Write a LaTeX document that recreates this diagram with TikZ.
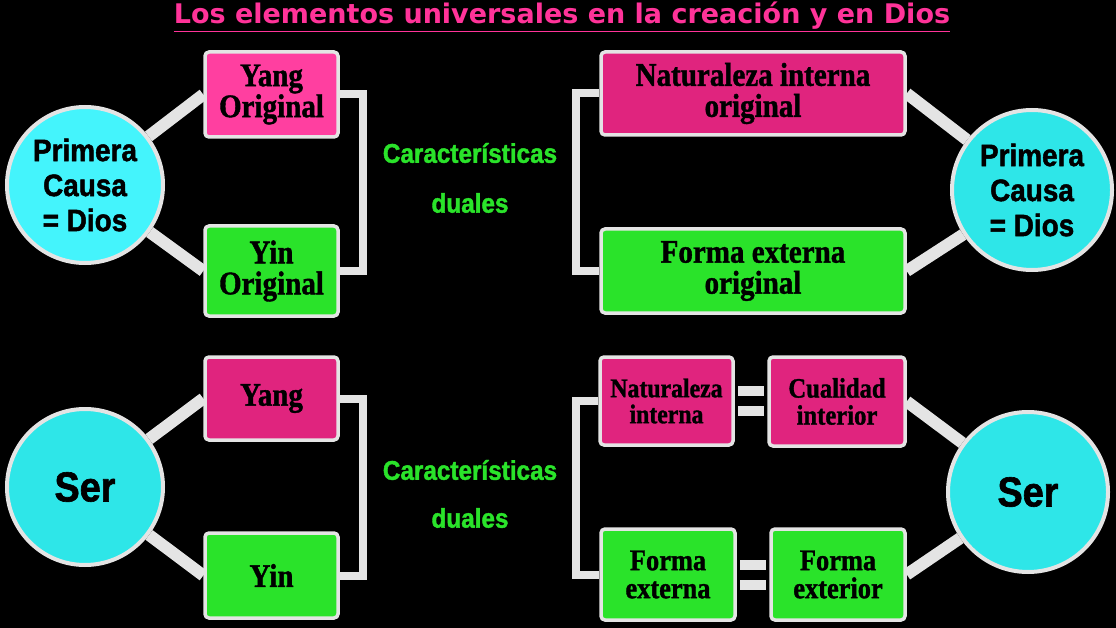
\documentclass[tikz,border=0pt]{standalone}
\usepackage{fontspec}
\usetikzlibrary{backgrounds,calc}
\newfontfamily\boxfont[FakeStretch=0.88,FakeBold=1.2]{Liberation Serif}
\newfontfamily\circfont[FakeStretch=0.9,FakeBold=1.5]{Liberation Sans}
\newfontfamily\titlefont{DejaVu Sans}
\setmainfont{Liberation Sans}
\definecolor{pinkA}{HTML}{E0247E}
\definecolor{pinkB}{HTML}{FF3FA0}
\definecolor{greenA}{HTML}{2AE32A}
\definecolor{cyanA}{HTML}{2EE6E8}
\definecolor{cyanB}{HTML}{44F4FC}
\definecolor{rim}{HTML}{E4E4E4}
\definecolor{titlec}{HTML}{FF3399}
\tikzset{
 bx/.style={draw=rim,line width=3.5pt,rounded corners=4pt,fill=#1,inner sep=0pt,align=center,
   font=\boxfont\bfseries\fontsize{33}{31}\selectfont,text=black},
 cc/.style={circle,draw=rim,line width=4pt,fill=#1,align=center,inner sep=0pt,
   font=\circfont\bfseries\fontsize{31}{35}\selectfont,text=black},
 conn/.style={draw=rim,line width=12pt},
 brk/.style={draw=rim,line width=8pt},
 lab/.style={text=greenA,font=\circfont\bfseries\fontsize{27}{28}\selectfont},
 eqbar/.style={fill=rim,draw=none}
}
\begin{document}
\begin{tikzpicture}[x=1pt,y=-1pt]
\begin{pgfonlayer}{background}
\fill[black] (0,0) rectangle (1116,628);
\end{pgfonlayer}
\useasboundingbox (0,0) rectangle (1116,628);
\node[text=titlec,font=\titlefont\bfseries\fontsize{27}{28}\selectfont] (title) at (562,17) {\underline{Los elementos universales en la creación y en Dios}};
% top left
\node[cc=cyanB,minimum size=156pt] (c1) at (85,185) {Primera\\Causa\\= Dios};
\node[bx=pinkB,minimum width=133pt,minimum height=85pt] (b1) at (271.5,94.5) {Yang\\Original};
\node[bx=greenA,minimum width=133pt,minimum height=90pt] (b2) at (271.5,271) {Yin\\Original};
\node[lab] (l1) at (470,153) {Características};
\node[lab] (l2) at (470,203) {duales};
% top right
\node[cc=cyanA,minimum size=160pt] (c2) at (1032,190) {Primera\\Causa\\= Dios};
\node[bx=pinkA,minimum width=304pt,minimum height=83pt] (b3) at (753,93.5) {Naturaleza interna\\original};
\node[bx=greenA,minimum width=304pt,minimum height=84pt] (b4) at (753,271) {Forma externa\\original};
% bottom left
\node[cc=cyanA,minimum size=156pt,font=\circfont\bfseries\fontsize{42}{42}\selectfont] (c3) at (85,487) {Ser};
\node[bx=pinkA,minimum width=133pt,minimum height=83pt] (b5) at (271.5,398.5) {Yang};
\node[bx=greenA,minimum width=133pt,minimum height=85pt] (b6) at (271.5,575.5) {Yin};
\node[lab] (l3) at (470,470) {Características};
\node[lab] (l4) at (470,518) {duales};
% bottom right
\node[cc=cyanA,minimum size=160pt,font=\circfont\bfseries\fontsize{42}{42}\selectfont] (c4) at (1028,492) {Ser};
\node[bx=pinkA,minimum width=133pt,minimum height=88pt,font=\boxfont\bfseries\fontsize{27}{26}\selectfont] (b7) at (666.5,401) {Naturaleza\\interna};
\node[bx=pinkA,minimum width=136pt,minimum height=89pt,font=\boxfont\bfseries\fontsize{28}{27}\selectfont] (b8) at (837,401.5) {Cualidad\\interior};
\node[bx=greenA,minimum width=134pt,minimum height=91pt,font=\boxfont\bfseries\fontsize{30}{28}\selectfont] (b9) at (668,574.5) {Forma\\externa};
\node[bx=greenA,minimum width=134pt,minimum height=91pt,font=\boxfont\bfseries\fontsize{30}{28}\selectfont] (b10) at (838,574.5) {Forma\\exterior};
% equals signs
\coordinate (e1) at ($(b7.east)!0.5!(b8.west)$);
\coordinate (e2) at ($(b9.east)!0.5!(b10.west)$);
\fill[eqbar] ($(e1)+(-13,-15)$) rectangle ($(e1)+(13,-5)$);
\fill[eqbar] ($(e1)+(-13,5)$) rectangle ($(e1)+(13,15)$);
\fill[eqbar] ($(e2)+(-13,-15)$) rectangle ($(e2)+(13,-5)$);
\fill[eqbar] ($(e2)+(-13,5)$) rectangle ($(e2)+(13,15)$);
\begin{pgfonlayer}{background}
\draw[conn] (c1) -- (b1.west);
\draw[conn] (c1) -- (b2.west);
\draw[conn] (c2) -- (b3.east);
\draw[conn] (c2) -- (b4.east);
\draw[conn] (c3) -- (b5.west);
\draw[conn] (c3) -- (b6.west);
\draw[conn] (c4) -- (b8.east);
\draw[conn] (c4) -- (b10.east);
\draw[brk] (b1.east) -- ++(23,0) |- (b2.east);
\draw[brk] (b5.east) -- ++(23,0) |- (b6.east);
\draw[brk] (b3.west) -- ++(-23,0) |- (b4.west);
\draw[brk] (b7.west) -- ++(-22,0) |- (b9.west);
\end{pgfonlayer}
\end{tikzpicture}
\end{document}
